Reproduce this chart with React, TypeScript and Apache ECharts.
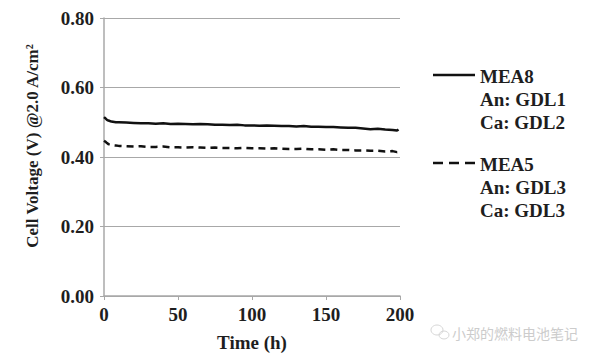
import React, { useEffect, useRef } from "react";
import * as echarts from "echarts";

const mea8Time = [0, 1, 2, 3, 5, 8, 10, 15, 20, 25, 30, 35, 40, 45, 50, 55, 60, 65, 70, 75, 80, 85, 90, 95, 100, 105, 110, 115, 120, 125, 130, 135, 140, 145, 150, 155, 160, 165, 170, 175, 180, 185, 190, 195, 198, 199];
const mea8Volt = [0.515, 0.511, 0.507, 0.505, 0.502, 0.500, 0.500, 0.499, 0.498, 0.497, 0.497, 0.496, 0.497, 0.495, 0.496, 0.495, 0.494, 0.495, 0.494, 0.493, 0.493, 0.492, 0.493, 0.491, 0.491, 0.490, 0.491, 0.490, 0.489, 0.489, 0.488, 0.489, 0.487, 0.487, 0.486, 0.486, 0.485, 0.484, 0.484, 0.482, 0.480, 0.481, 0.479, 0.478, 0.476, 0.479];

const mea5Time = [0, 1, 2, 3, 5, 8, 10, 15, 20, 25, 30, 35, 40, 45, 50, 55, 60, 65, 70, 75, 80, 85, 90, 95, 100, 105, 110, 115, 120, 125, 130, 135, 140, 145, 150, 155, 160, 165, 170, 175, 180, 185, 190, 195, 198, 199];
const mea5Volt = [0.447, 0.444, 0.440, 0.437, 0.434, 0.433, 0.432, 0.431, 0.430, 0.431, 0.429, 0.429, 0.430, 0.428, 0.428, 0.427, 0.428, 0.427, 0.426, 0.427, 0.426, 0.426, 0.425, 0.426, 0.425, 0.425, 0.424, 0.425, 0.424, 0.423, 0.423, 0.424, 0.422, 0.422, 0.421, 0.422, 0.420, 0.420, 0.419, 0.419, 0.418, 0.418, 0.416, 0.417, 0.414, 0.416];

const xTicks = [0, 50, 100, 150, 200];
const yTicks = [0, 0.2, 0.4, 0.6, 0.8];

const legendMea8 = ["MEA8", "An: GDL1", "Ca: GDL2"];
const legendMea5 = ["MEA5", "An: GDL3", "Ca: GDL3"];

const yTitle = "Cell Voltage (V) @2.0 A/cm²";
const xTitle = "Time (h)";
const watermark = "小郑的燃料电池笔记";

const FONT = "Liberation Serif";
const TEXT = "#1e1e1e";
const GRID = "#a8a8a8";

export default function App() {
  const ref = useRef<HTMLDivElement>(null);
  useEffect(() => {
    if (!ref.current) return;
    const chart = echarts.init(ref.current, null, { renderer: "svg" });
    const legendText = (lines: string[], x: number, y0: number) =>
      lines.map((t, i) => ({
        type: "text",
        x,
        y: y0 + i * 23,
        style: {
          text: t,
          fill: TEXT,
          fontFamily: FONT,
          fontWeight: "bold",
          fontSize: 19,
          align: "left",
          verticalAlign: "middle",
        },
      }));
    chart.setOption({
      animation: false,
      backgroundColor: "#ffffff",
      grid: { left: 104, right: 200, top: 18, bottom: 63 },
      xAxis: {
        type: "value",
        min: xTicks[0],
        max: xTicks[xTicks.length - 1],
        interval: 50,
        axisLine: { show: true, lineStyle: { color: GRID, width: 1.5 } },
        axisTick: { show: true, length: 4, lineStyle: { color: GRID } },
        splitLine: { show: false },
        axisLabel: {
          margin: 9,
          color: TEXT,
          fontFamily: FONT,
          fontWeight: "bold",
          fontSize: 19,
        },
      },
      yAxis: {
        type: "value",
        min: yTicks[0],
        max: yTicks[yTicks.length - 1],
        interval: 0.2,
        axisLine: { show: true, lineStyle: { color: GRID, width: 1.5 } },
        axisTick: { show: true, length: 4, lineStyle: { color: GRID } },
        splitLine: { show: true, lineStyle: { color: GRID, width: 1 } },
        axisLabel: {
          margin: 10,
          color: TEXT,
          fontFamily: FONT,
          fontWeight: "bold",
          fontSize: 19,
          formatter: (v: number) => v.toFixed(2),
        },
      },
      series: [
        {
          type: "line",
          name: "MEA8",
          data: mea8Time.map((t, i) => [t, mea8Volt[i]]),
          showSymbol: false,
          lineStyle: { color: "#111111", width: 2.5 },
        },
        {
          type: "line",
          name: "MEA5",
          data: mea5Time.map((t, i) => [t, mea5Volt[i]]),
          showSymbol: false,
          lineStyle: { color: "#111111", width: 2.5, type: [7, 5] },
        },
      ],
      graphic: [
        {
          type: "text",
          x: 32,
          y: 146,
          rotation: Math.PI / 2,
          style: {
            text: yTitle,
            fill: TEXT,
            fontFamily: FONT,
            fontWeight: "bold",
            fontSize: 17,
            align: "center",
            verticalAlign: "middle",
          },
        },
        {
          type: "text",
          x: 252,
          y: 342,
          style: {
            text: xTitle,
            fill: TEXT,
            fontFamily: FONT,
            fontWeight: "bold",
            fontSize: 19,
            align: "center",
            verticalAlign: "middle",
          },
        },
        {
          type: "line",
          shape: { x1: 433, y1: 75, x2: 475, y2: 75 },
          style: { stroke: "#111111", lineWidth: 2.5 },
        },
        ...legendText(legendMea8, 480, 76),
        {
          type: "line",
          shape: { x1: 433, y1: 163, x2: 475, y2: 163 },
          style: { stroke: "#111111", lineWidth: 2.5, lineDash: [10, 6] },
        },
        ...legendText(legendMea5, 480, 164),
        {
          type: "ellipse",
          shape: { cx: 437, cy: 330, rx: 6, ry: 5 },
          style: { fill: "none", stroke: "#d6d6d6", lineWidth: 1 },
        },
        {
          type: "ellipse",
          shape: { cx: 444, cy: 335, rx: 5, ry: 4 },
          style: { fill: "none", stroke: "#d6d6d6", lineWidth: 1 },
        },
        {
          type: "text",
          x: 452,
          y: 333,
          style: {
            text: watermark,
            fill: "#cccccc",
            fontFamily: "Noto Sans CJK SC",
            fontSize: 14,
            align: "left",
            verticalAlign: "middle",
          },
        },
      ],
    });
    return () => chart.dispose();
  }, []);
  return <div ref={ref} style={{ width: 600, height: 359, position: "absolute", left: 0, top: 0 }} />;
}
